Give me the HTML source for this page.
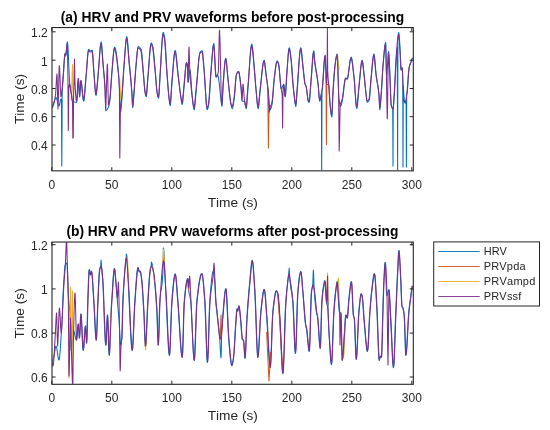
<!DOCTYPE html>
<html><head><meta charset="utf-8"><title>HRV and PRV waveforms</title>
<style>html,body{margin:0;padding:0;background:#fff;}text{font-kerning:none;font-variant-ligatures:none;}body{width:550px;height:430px;position:relative;overflow:hidden;}</style></head>
<body>
<svg width="550" height="430" viewBox="0 0 550 430" style="position:absolute;left:0;top:0">
<defs><clipPath id="c1"><rect x="52.1" y="27.6" width="361.2" height="143"/></clipPath><clipPath id="c2"><rect x="52.1" y="242.05" width="361.2" height="142.25"/></clipPath></defs>
<g clip-path="url(#c1)">
<polyline points="52.0,108.0 52.4,106.7 52.8,105.4 53.2,104.2 53.6,103.1 54.0,102.0 54.0,102.0 54.4,100.9 54.8,99.7 55.2,98.6 55.6,97.8 56.0,97.5 56.0,97.5 56.4,97.9 56.8,99.0 57.2,100.5 57.6,102.2 58.0,103.8 58.4,105.1 58.8,105.9 59.0,106.0 59.2,105.8 59.6,104.5 60.0,102.5 60.4,100.5 60.8,99.2 61.0,99.0 61.2,99.5 61.4,101.0 61.6,134.0 61.8,166.0 62.0,130.2 62.2,92.0 62.4,89.1 62.5,88.0 62.8,83.8 63.2,78.2 63.2,78.2 63.6,72.1 64.0,65.4 64.4,59.2 64.8,54.7 65.2,53.0 65.2,53.0 65.6,54.5 65.8,55.0 66.0,54.5 66.4,50.9 66.8,46.1 67.2,42.5 67.4,41.9 67.6,42.6 68.0,47.6 68.4,55.8 68.8,65.5 69.2,74.9 69.6,82.2 69.8,84.5 70.0,86.0 70.4,88.5 70.8,90.6 71.2,92.8 71.2,92.8 71.6,96.1 72.0,99.5 72.4,101.2 72.4,101.2 72.8,101.5 73.2,101.6 73.6,101.8 74.0,101.9 74.4,102.0 74.8,102.1 75.2,102.2 75.6,102.2 76.0,102.3 76.4,102.3 76.7,102.3 76.8,102.1 77.2,97.8 77.6,90.5 78.0,83.1 78.4,78.9 78.5,78.7 78.8,81.5 79.2,90.1 79.6,96.7 79.7,97.0 80.0,94.8 80.4,88.0 80.8,81.8 81.0,80.8 81.2,81.1 81.6,83.4 82.0,87.1 82.4,91.6 82.8,95.9 83.2,99.4 83.6,101.2 83.7,101.2 84.0,100.6 84.4,97.9 84.8,93.7 85.2,88.7 85.6,83.3 86.0,78.3 86.2,76.0 86.4,73.8 86.8,68.6 87.2,62.9 87.6,57.4 88.0,52.9 88.4,50.0 88.7,49.3 88.8,49.3 89.2,49.7 89.6,50.3 90.0,50.8 90.2,50.8 90.4,50.8 90.8,50.7 91.2,50.6 91.6,50.4 92.0,50.3 92.2,50.3 92.4,50.8 92.8,54.2 93.2,59.7 93.6,66.2 94.0,72.4 94.2,75.0 94.4,77.6 94.8,83.5 95.2,89.3 95.6,93.7 96.0,95.5 96.0,95.5 96.4,94.3 96.8,91.2 97.2,86.8 97.6,81.9 98.0,77.1 98.2,75.0 98.4,72.8 98.8,67.7 99.2,62.0 99.6,56.1 100.0,50.7 100.4,46.2 100.8,43.1 101.2,41.9 101.2,41.9 101.6,43.5 102.0,47.5 102.4,53.1 102.8,59.0 103.2,64.5 103.2,64.5 103.6,69.0 104.0,73.3 104.4,78.0 104.8,83.6 105.2,90.7 105.2,90.8 105.6,106.4 105.8,110.7 106.0,110.7 106.4,110.4 106.8,110.0 107.2,109.4 107.6,108.7 108.0,107.9 108.4,107.0 108.6,106.5 108.8,106.0 109.2,104.4 109.6,102.4 109.8,101.2 110.0,99.8 110.4,95.5 110.8,90.0 111.2,83.8 111.6,77.7 112.0,72.1 112.2,69.8 112.4,67.5 112.8,62.5 113.2,57.5 113.6,52.9 114.0,49.4 114.4,47.3 114.6,47.1 114.8,47.2 115.2,48.0 115.6,49.5 116.0,51.6 116.4,54.2 116.8,57.2 117.2,60.5 117.6,64.1 118.0,67.9 118.2,69.8 118.4,71.9 118.8,77.3 119.2,83.8 119.6,90.7 119.6,90.8 120.0,100.7 120.4,110.1 120.6,111.8 120.8,111.2 121.2,107.7 121.6,102.6 121.8,100.2 122.0,97.8 122.4,92.2 122.8,85.9 123.2,79.4 123.6,73.0 124.0,67.1 124.2,64.5 124.4,61.9 124.8,56.3 125.2,50.5 125.6,45.2 126.0,40.7 126.4,37.7 126.8,36.6 126.8,36.6 127.2,37.8 127.6,41.0 128.0,45.7 128.4,51.0 128.8,56.5 129.2,61.3 129.2,61.4 129.6,65.6 130.0,69.8 130.4,74.0 130.8,78.3 131.2,83.0 131.6,88.2 132.0,93.9 132.2,97.0 132.4,101.9 132.7,107.6 132.8,107.4 133.2,104.4 133.6,99.4 133.8,97.0 134.0,94.7 134.4,89.5 134.8,83.7 135.2,77.7 135.6,72.0 136.0,66.8 136.2,64.5 136.4,62.3 136.8,57.5 137.2,52.9 137.6,49.2 138.0,47.0 138.2,46.6 138.4,46.7 138.8,46.8 139.2,47.0 139.6,47.4 140.0,47.8 140.4,48.4 140.8,49.0 141.2,49.8 141.2,49.8 141.6,51.7 142.0,55.3 142.4,60.0 142.8,65.1 143.2,69.7 143.2,69.8 143.6,74.5 144.0,79.9 144.4,85.2 144.8,89.8 145.2,92.8 145.2,92.8 145.6,95.0 146.0,96.4 146.2,96.6 146.4,96.2 146.8,93.3 147.2,88.5 147.6,82.8 148.0,77.3 148.2,75.0 148.4,72.7 148.8,67.5 149.2,61.9 149.6,56.3 150.0,51.1 150.4,46.8 150.8,43.9 151.2,42.9 151.2,42.9 151.6,43.2 152.0,43.9 152.4,45.0 152.6,45.6 152.8,46.4 153.2,48.8 153.6,52.3 154.0,56.4 154.4,60.8 154.8,65.4 155.2,69.7 155.2,69.8 155.6,74.4 156.0,79.8 156.4,85.1 156.8,89.7 157.2,92.8 157.2,92.8 157.6,95.0 158.0,96.8 158.4,97.9 158.6,98.1 158.8,97.4 159.2,92.8 159.6,85.7 160.0,78.2 160.2,75.0 160.4,72.0 160.8,65.1 161.2,57.6 161.6,50.1 162.0,43.2 162.4,37.6 162.8,33.8 163.2,32.4 163.2,32.4 163.6,32.9 164.0,34.3 164.4,36.2 164.6,37.2 164.8,38.5 165.2,42.8 165.6,48.6 166.0,55.3 166.4,62.3 166.8,69.1 167.2,75.0 167.2,75.0 167.6,80.4 168.0,85.7 168.4,90.9 168.8,95.4 169.2,99.1 169.2,99.2 169.6,102.5 170.0,105.1 170.2,105.5 170.4,104.9 170.8,101.4 171.2,95.7 171.6,89.0 172.0,82.8 172.2,80.2 172.4,77.9 172.8,72.8 173.2,67.5 173.6,62.4 174.0,57.7 174.4,53.9 174.8,51.4 175.2,50.4 175.2,50.4 175.6,51.2 176.0,53.5 176.4,56.7 176.8,60.7 177.2,65.0 177.6,69.3 178.0,73.3 178.2,75.0 178.4,76.6 178.8,80.0 179.2,83.5 179.6,87.0 180.0,90.3 180.4,93.5 180.8,96.5 181.2,99.1 181.2,99.2 181.6,101.9 182.0,104.1 182.2,104.4 182.4,104.0 182.8,101.5 183.2,97.3 183.6,92.4 184.0,87.6 184.2,85.5 184.4,83.4 184.8,78.7 185.2,73.6 185.6,68.8 186.0,64.9 186.4,62.7 186.6,62.4 186.8,62.6 187.2,64.0 187.6,66.6 187.6,66.6 188.0,78.6 188.2,82.3 188.4,81.9 188.8,79.1 189.2,75.0 189.6,71.3 190.0,69.8 190.0,69.8 190.4,71.5 190.8,76.0 191.2,82.1 191.6,88.5 192.0,94.0 192.2,96.0 192.4,97.8 192.8,101.5 193.2,105.0 193.6,107.8 194.0,109.4 194.2,109.7 194.4,109.3 194.8,106.8 195.2,102.6 195.6,97.6 196.0,92.8 196.2,90.8 196.4,88.8 196.8,84.3 197.2,79.5 197.6,74.4 198.0,69.4 198.4,64.7 198.8,60.3 199.2,56.7 199.6,53.9 200.0,52.3 200.2,51.9 200.4,51.7 200.8,51.4 201.2,51.1 201.6,51.0 202.0,50.9 202.2,50.8 202.4,51.2 202.8,53.6 203.2,57.6 203.6,62.5 204.0,67.5 204.2,69.8 204.4,72.2 204.8,78.1 205.2,85.0 205.6,92.1 206.0,98.8 206.4,104.4 206.8,108.2 207.2,109.7 207.2,109.7 207.6,109.2 208.0,108.0 208.4,106.4 208.6,105.5 208.8,104.2 209.2,100.2 209.6,94.7 210.0,88.2 210.4,81.5 210.8,75.1 211.2,69.8 211.2,69.8 211.6,64.7 212.0,59.4 212.4,54.1 212.8,49.4 213.2,45.8 213.6,43.8 213.8,43.5 214.0,44.2 214.4,48.7 214.8,56.1 215.2,64.5 215.6,71.8 216.0,76.4 216.2,77.1 216.4,77.0 216.8,76.3 217.2,75.4 217.6,75.0 217.6,75.0 218.0,75.6 218.4,77.3 218.8,79.9 219.2,83.1 219.6,86.8 220.0,90.7 220.4,94.6 220.8,98.3 221.2,101.7 221.6,104.4 221.6,104.4 222.0,106.5 222.0,106.5 222.4,102.3 222.8,93.4 223.2,85.5 223.2,85.5 223.6,79.9 224.0,74.1 224.4,68.7 224.8,64.0 225.2,60.4 225.6,58.5 225.8,58.2 226.0,58.5 226.4,60.7 226.8,64.4 227.2,69.0 227.6,73.8 228.0,78.3 228.2,80.2 228.4,82.0 228.8,85.8 229.2,89.7 229.6,93.6 230.0,97.3 230.4,100.6 230.8,103.4 231.2,105.4 231.2,105.5 231.6,107.2 232.0,108.4 232.2,108.6 232.4,108.5 232.8,107.4 233.2,105.5 233.6,103.1 234.0,100.5 234.2,99.2 234.4,97.6 234.8,93.4 235.2,88.3 235.6,83.0 236.0,78.4 236.4,75.2 236.6,74.4 236.8,73.9 237.2,73.0 237.6,72.3 238.0,71.7 238.4,71.5 238.6,71.4 238.8,71.6 239.2,72.8 239.6,75.0 240.0,77.9 240.4,81.3 240.8,84.9 241.2,88.6 241.2,88.7 241.6,94.4 242.0,100.2 242.2,101.2 242.4,101.2 242.8,101.2 243.2,101.2 243.6,101.2 244.0,101.2 244.4,101.2 244.6,101.2 244.8,101.6 245.2,103.6 245.6,106.3 246.0,108.3 246.2,108.6 246.4,108.2 246.8,105.1 247.2,99.9 247.6,93.9 248.0,88.0 248.2,85.5 248.4,83.1 248.8,77.6 249.2,71.7 249.6,65.6 250.0,59.6 250.4,54.2 250.8,49.6 251.2,46.2 251.6,44.4 251.8,44.1 252.0,44.4 252.4,46.2 252.8,49.4 253.2,53.6 253.6,58.5 254.0,63.6 254.4,68.5 254.6,70.8 254.8,73.1 255.2,78.2 255.6,83.5 256.0,88.5 256.2,90.8 256.4,92.9 256.8,97.7 257.2,102.3 257.6,106.1 258.0,108.3 258.2,108.6 258.4,108.2 258.8,105.8 259.2,101.7 259.6,97.0 260.0,92.6 260.2,90.8 260.4,89.0 260.8,85.3 261.2,81.3 261.6,77.3 262.0,73.3 262.4,69.6 262.8,66.2 263.2,63.5 263.6,61.5 264.0,60.4 264.2,60.3 264.4,60.6 264.8,62.5 265.2,65.7 265.6,69.6 266.0,73.4 266.2,75.0 266.4,76.5 266.8,79.6 267.2,82.6 267.6,85.8 268.0,89.1 268.2,90.8 268.4,92.7 268.8,97.4 269.2,102.3 269.6,106.7 270.0,109.3 270.2,109.7 270.4,109.6 270.8,108.9 271.2,107.7 271.6,106.2 272.0,104.3 272.2,103.3 272.4,102.1 272.8,98.0 273.2,92.7 273.6,87.1 274.0,82.2 274.2,80.2 274.4,78.5 274.8,75.0 275.2,71.5 275.6,68.2 276.0,65.3 276.4,63.0 276.8,61.5 277.2,60.9 277.2,60.9 277.6,61.2 278.0,61.9 278.4,62.9 278.6,63.5 278.8,64.4 279.2,67.9 279.6,72.8 280.0,78.3 280.4,83.4 280.8,87.2 281.2,88.6 281.2,88.7 281.6,88.4 282.0,87.7 282.4,86.8 282.8,85.8 283.2,85.0 283.6,84.5 283.8,84.5 284.0,85.1 284.4,89.4 284.8,94.6 285.2,97.0 285.2,97.0 285.6,95.0 286.0,89.8 286.4,82.9 286.8,75.7 287.2,69.8 287.2,69.8 287.6,64.3 288.0,58.5 288.4,53.1 288.8,49.2 289.2,47.7 289.2,47.7 289.6,48.4 290.0,50.2 290.4,52.9 290.8,56.0 291.2,59.2 291.2,59.2 291.6,63.4 292.0,68.8 292.4,74.7 292.8,80.6 293.2,85.5 293.2,85.5 293.6,89.7 294.0,93.6 294.4,97.3 294.8,100.6 295.2,103.3 295.2,103.3 295.6,106.0 295.8,106.5 296.0,105.9 296.4,102.0 296.8,96.2 297.2,90.8 297.2,90.8 297.6,85.6 298.0,79.7 298.4,73.4 298.8,67.1 299.2,61.1 299.6,55.8 300.0,51.5 300.4,48.7 300.8,47.7 300.8,47.7 301.2,48.7 301.6,51.4 302.0,55.2 302.4,59.5 302.8,63.9 303.2,67.6 303.2,67.7 303.6,71.3 304.0,75.4 304.4,79.2 304.8,82.4 305.2,84.4 305.2,84.5 305.6,85.4 306.0,86.1 306.2,86.5 306.4,87.4 306.8,90.0 307.2,93.5 307.6,97.1 308.0,100.2 308.4,102.0 308.6,102.3 308.8,102.3 309.2,102.3 309.2,102.3 309.6,100.7 310.0,96.7 310.4,91.2 310.8,85.4 311.2,80.3 311.2,80.2 311.6,75.2 312.0,69.3 312.4,63.4 312.8,57.9 313.2,53.6 313.6,51.2 313.8,50.8 314.0,51.8 314.4,57.0 314.6,59.2 314.8,60.9 315.2,64.1 315.6,66.8 316.0,69.4 316.4,71.9 316.8,74.4 317.2,77.0 317.6,79.7 318.0,82.8 318.2,84.5 318.4,86.5 318.8,91.8 319.2,97.1 319.6,100.7 319.8,101.2 320.0,100.9 320.4,99.0 320.8,96.5 321.2,94.6 321.4,94.3 321.6,150.6 321.7,170.3 322.0,91.6 322.0,91.6 322.2,90.8 322.4,89.3 322.8,84.9 323.2,79.0 323.6,72.4 324.0,66.0 324.4,60.4 324.8,56.5 325.2,55.1 325.2,55.0 325.6,60.4 326.0,70.7 326.2,75.0 326.4,79.0 326.8,84.5 326.8,84.5 327.2,84.5 327.6,84.5 328.0,84.5 328.4,84.5 328.8,84.5 328.8,84.5 329.2,87.8 329.6,95.3 330.0,102.8 330.2,105.5 330.4,107.5 330.8,111.4 331.2,114.7 331.6,116.7 331.8,117.0 332.0,115.9 332.4,109.0 332.8,99.1 333.2,90.8 333.2,90.8 333.6,84.5 334.0,78.5 334.4,72.9 334.8,68.2 335.2,64.5 335.2,64.5 335.6,61.5 336.0,58.6 336.4,56.3 336.8,54.6 337.2,54.0 337.2,54.0 337.6,59.8 338.0,72.9 338.4,87.1 338.8,96.0 338.8,96.0 339.2,100.0 339.6,103.3 340.0,105.6 340.4,106.5 340.4,106.5 340.8,106.1 341.2,105.1 341.6,103.6 342.0,102.0 342.2,101.2 342.4,100.4 342.8,97.9 343.2,94.9 343.6,91.5 344.0,88.0 344.4,84.6 344.8,81.7 345.2,79.5 345.6,78.3 345.8,78.2 346.0,78.2 346.4,78.6 346.8,79.0 347.2,79.2 347.2,79.2 347.6,78.6 348.0,76.9 348.4,74.4 348.8,71.4 349.2,68.2 349.6,64.9 350.0,61.9 350.4,59.4 350.8,57.8 351.2,57.2 351.2,57.1 351.6,57.8 352.0,59.5 352.4,62.0 352.8,65.2 353.2,68.8 353.6,72.6 354.0,76.3 354.2,78.2 354.4,80.2 354.8,85.4 355.2,91.5 355.6,97.8 356.0,103.2 356.4,107.1 356.8,108.6 356.8,108.6 357.2,107.4 357.6,104.2 358.0,99.7 358.4,94.7 358.8,89.7 359.2,85.5 359.2,85.5 359.6,81.6 360.0,77.2 360.4,72.7 360.8,68.5 361.2,64.8 361.6,62.1 362.0,60.5 362.2,60.3 362.4,60.6 362.8,62.4 363.2,65.5 363.6,69.3 364.0,73.2 364.2,75.0 364.4,76.8 364.8,80.7 365.2,85.0 365.6,89.3 366.0,93.2 366.2,95.0 366.4,96.8 366.8,100.5 367.2,102.3 367.2,102.3 367.6,102.2 368.0,101.9 368.4,101.5 368.8,100.9 369.2,100.2 369.2,100.2 369.6,98.0 370.0,93.8 370.4,88.3 370.8,82.8 371.2,78.2 371.2,78.2 371.6,73.9 372.0,69.4 372.4,64.8 372.8,60.6 373.2,57.2 373.6,54.9 374.0,54.0 374.0,54.0 374.4,55.3 374.8,58.8 375.2,63.4 375.6,68.5 376.0,73.1 376.2,75.0 376.4,76.6 376.8,79.3 377.2,81.7 377.6,84.0 378.0,86.4 378.4,89.2 378.8,92.7 379.2,97.0 379.2,97.0 379.6,106.9 379.8,109.7 380.0,109.2 380.4,106.0 380.8,101.1 381.2,96.0 381.2,96.0 381.6,90.4 382.0,83.7 382.4,76.6 382.8,69.9 383.2,64.5 383.2,64.5 383.6,59.8 384.0,54.9 384.4,50.4 384.8,46.6 385.2,43.8 385.6,42.5 385.7,42.4 386.0,50.9 386.4,70.9 386.6,75.0 386.8,74.3 387.2,69.9 387.6,63.3 388.0,56.6 388.4,52.2 388.6,51.6 388.8,52.4 389.2,57.7 389.6,66.2 390.0,75.8 390.2,80.2 390.4,85.4 390.8,97.9 391.2,105.4 391.2,105.5 391.6,106.7 392.0,107.2 392.4,108.0 392.7,109.4 392.8,124.4 393.0,166.0 393.2,110.7 393.2,110.7 393.3,109.3 393.6,105.1 394.0,99.7 394.4,93.9 394.6,90.8 394.8,87.2 395.2,78.8 395.6,70.1 396.0,62.3 396.2,59.2 396.4,56.4 396.8,50.9 397.2,47.6 397.3,47.5 397.6,170.3 397.6,170.3 397.9,41.0 398.0,38.8 398.4,33.5 398.7,32.5 398.8,32.6 399.2,35.6 399.6,41.1 400.0,47.7 400.2,50.8 400.4,54.7 400.8,64.5 401.2,69.8 401.2,69.8 401.6,69.0 402.0,67.9 402.2,67.7 402.4,69.0 402.7,76.1 402.8,101.2 403.0,167.0 403.2,107.1 403.3,86.1 403.6,89.9 404.0,99.0 404.2,101.2 404.4,101.8 404.8,102.7 405.2,103.2 405.6,103.3 405.6,103.3 406.0,100.4 406.1,100.1 406.4,167.0 406.4,167.0 406.7,96.1 406.8,95.0 407.2,92.9 407.2,92.8 407.6,88.5 408.0,82.6 408.4,76.4 408.8,71.0 409.2,67.7 409.2,67.7 409.6,65.9 410.0,64.5 410.4,63.4 410.8,62.4 411.2,61.4 411.2,61.4 411.6,60.2 412.0,59.2 412.4,58.2 412.6,57.7" fill="none" stroke="#0072BD" stroke-width="1.05" stroke-linejoin="round" stroke-linecap="butt"/>
<polyline points="267.8,88.0 268.4,148.0 269.0,110.0" fill="none" stroke="#D95319" stroke-width="1.05" stroke-linejoin="round" stroke-linecap="butt"/>
<polyline points="326.0,76.0 326.4,144.6 326.8,84.0" fill="none" stroke="#D95319" stroke-width="1.05" stroke-linejoin="round" stroke-linecap="butt"/>
<polyline points="72.7,100.0 73.1,138.0 73.5,100.0" fill="none" stroke="#D95319" stroke-width="1.05" stroke-linejoin="round" stroke-linecap="butt"/>
<polyline points="71.6,92.0 72.5,64.5 73.2,100.0" fill="none" stroke="#EDB120" stroke-width="1.05" stroke-linejoin="round" stroke-linecap="butt"/>
<polyline points="119.6,78.0 120.8,100.0" fill="none" stroke="#EDB120" stroke-width="1.05" stroke-linejoin="round" stroke-linecap="butt"/>
<polyline points="337.6,55.0 339.0,70.0" fill="none" stroke="#EDB120" stroke-width="1.05" stroke-linejoin="round" stroke-linecap="butt"/>
<polyline points="52.0,108.0 52.4,107.5 52.8,106.7 53.2,105.6 53.6,104.4 54.0,103.0 54.0,103.0 54.4,101.5 54.8,99.5 55.2,97.1 55.5,95.0 55.6,94.1 56.0,87.8 56.4,80.3 56.8,74.8 57.0,74.0 57.2,77.6 57.6,96.7 58.0,109.0 58.0,109.0 58.4,99.2 58.8,79.9 59.2,66.2 59.3,65.5 59.6,68.1 60.0,77.1 60.4,88.0 60.8,95.8 61.0,97.0 61.2,96.7 61.6,94.2 62.0,90.2 62.4,85.2 62.8,80.2 63.0,78.0 63.2,75.6 63.6,69.7 64.0,63.3 64.4,57.8 64.8,54.5 65.0,54.0 65.2,54.5 65.6,56.0 65.6,56.0 66.0,54.0 66.4,49.8 66.8,45.5 67.2,43.5 67.2,43.5 67.6,55.6 67.9,75.0 68.0,87.7 68.3,130.5 68.4,126.2 68.8,88.0 68.8,88.0 69.2,85.0 69.6,84.0 69.6,84.0 70.0,85.1 70.4,87.6 70.8,90.7 71.0,92.0 71.2,93.2 71.6,95.7 72.0,98.4 72.2,100.0 72.4,101.5 72.6,104.0 72.8,121.9 73.0,138.0 73.2,126.9 73.5,100.0 73.6,95.8 74.0,83.7 74.1,80.0 74.4,61.5 74.5,59.0 74.8,75.4 74.9,80.0 75.2,86.7 75.6,93.8 76.0,98.7 76.4,100.9 76.5,101.0 76.8,99.3 77.2,93.4 77.6,86.1 78.0,80.2 78.3,78.5 78.4,78.8 78.8,85.1 79.2,93.3 79.5,96.0 79.6,95.7 80.0,90.9 80.4,84.0 80.8,80.5 80.8,80.5 81.2,81.7 81.6,84.6 82.0,88.6 82.4,92.9 82.8,96.7 83.2,99.3 83.5,100.0 83.6,99.9 84.0,98.3 84.4,95.0 84.8,90.5 85.2,85.5 85.6,80.4 86.0,76.0 86.0,76.0 86.4,71.5 86.8,66.2 87.2,60.8 87.6,56.0 88.0,52.4 88.4,50.6 88.5,50.5 88.8,50.7 89.2,51.2 89.6,51.7 90.0,52.0 90.0,52.0 90.4,51.9 90.8,51.8 91.2,51.7 91.6,51.6 92.0,51.5 92.0,51.5 92.4,53.2 92.8,57.6 93.2,63.5 93.6,69.7 94.0,75.0 94.0,75.0 94.4,80.2 94.8,85.9 95.2,90.9 95.6,94.1 95.8,94.5 96.0,94.2 96.4,92.1 96.8,88.4 97.2,84.0 97.6,79.3 98.0,75.0 98.0,75.0 98.4,70.6 98.8,65.4 99.2,59.8 99.6,54.3 100.0,49.5 100.4,45.9 100.8,43.8 101.0,43.5 101.2,43.9 101.6,46.7 102.0,51.4 102.4,57.0 102.8,62.5 103.0,65.0 103.2,67.2 103.6,71.3 104.0,75.5 104.4,80.3 104.8,86.4 105.0,90.0 105.2,96.7 105.6,109.0 105.6,109.0 106.0,103.3 106.4,90.2 106.8,75.7 107.2,65.5 107.4,64.0 107.6,68.3 108.0,90.6 108.4,105.0 108.4,105.0 108.8,104.2 109.2,102.3 109.6,100.0 109.6,100.0 110.0,96.7 110.4,92.0 110.8,86.4 111.2,80.4 111.6,74.8 112.0,70.0 112.0,70.0 112.4,65.5 112.8,60.7 113.2,56.1 113.6,52.1 114.0,49.4 114.4,48.4 114.4,48.4 114.8,48.8 115.2,49.9 115.6,51.6 116.0,53.9 116.4,56.6 116.8,59.6 117.2,62.9 117.6,66.4 118.0,70.0 118.0,70.0 118.4,73.2 118.8,77.3 119.2,84.5 119.4,90.0 119.6,125.6 119.8,158.0 120.0,146.4 120.4,110.0 120.4,110.0 120.8,104.9 121.2,102.2 121.6,99.0 121.6,99.0 122.0,94.1 122.4,88.4 122.8,82.3 123.2,76.1 123.6,70.2 124.0,65.0 124.0,65.0 124.4,59.9 124.8,54.4 125.2,49.1 125.6,44.4 126.0,40.7 126.4,38.7 126.6,38.4 126.8,38.7 127.2,40.9 127.6,44.7 128.0,49.5 128.4,54.8 128.8,59.8 129.0,62.0 129.2,64.1 129.6,68.1 130.0,72.0 130.4,76.1 130.8,80.4 131.2,85.0 131.6,90.2 132.0,96.0 132.0,96.0 132.4,105.2 132.5,106.0 132.8,104.8 133.2,100.7 133.6,96.0 133.6,96.0 134.0,91.4 134.4,86.1 134.8,80.4 135.2,74.8 135.6,69.5 136.0,65.0 136.0,65.0 136.4,60.6 136.8,56.1 137.2,52.0 137.6,49.1 138.0,48.0 138.0,48.0 138.4,48.1 138.8,48.2 139.2,48.5 139.6,48.9 140.0,49.4 140.4,50.0 140.8,50.6 141.0,51.0 141.2,51.7 141.6,54.4 142.0,58.4 142.4,63.1 142.8,67.9 143.0,70.0 143.2,72.2 143.6,77.1 144.0,82.3 144.4,87.0 144.8,90.7 145.0,92.0 145.2,93.0 145.6,94.8 146.0,95.6 146.0,95.6 146.4,94.1 146.8,90.3 147.2,85.2 147.6,79.8 148.0,75.0 148.0,75.0 148.4,70.4 148.8,65.2 149.2,59.8 149.6,54.6 150.0,50.1 150.4,46.6 150.8,44.7 151.0,44.4 151.2,44.5 151.6,45.0 152.0,45.9 152.4,47.0 152.4,47.0 152.8,48.8 153.2,51.6 153.6,55.2 154.0,59.4 154.4,63.7 154.8,68.0 155.0,70.0 155.2,72.1 155.6,77.0 156.0,82.2 156.4,87.0 156.8,90.7 157.0,92.0 157.2,93.0 157.6,95.0 158.0,96.4 158.4,97.0 158.4,97.0 158.8,94.6 159.2,88.7 159.6,81.5 160.0,75.0 160.0,75.0 160.4,68.9 160.8,62.0 161.2,54.8 161.6,47.9 162.0,41.9 162.4,37.3 162.8,34.7 163.0,34.4 163.2,34.5 163.6,35.5 164.0,37.1 164.4,39.0 164.4,39.0 164.8,42.1 165.2,46.9 165.6,52.9 166.0,59.6 166.4,66.2 166.8,72.3 167.0,75.0 167.2,77.5 167.6,82.7 168.0,87.7 168.4,92.4 168.8,96.3 169.0,98.0 169.2,99.6 169.6,102.6 170.0,104.0 170.0,104.0 170.4,102.2 170.8,97.6 171.2,91.5 171.6,85.2 172.0,80.0 172.0,80.0 172.4,75.4 172.8,70.4 173.2,65.4 173.6,60.7 174.0,56.6 174.4,53.5 174.8,51.8 175.0,51.6 175.2,51.8 175.6,53.3 176.0,55.9 176.4,59.4 176.8,63.4 177.2,67.6 177.6,71.5 178.0,75.0 178.0,75.0 178.4,78.2 178.8,81.4 179.2,84.8 179.6,88.0 180.0,91.2 180.4,94.1 180.8,96.8 181.0,98.0 181.2,99.3 181.6,101.8 182.0,103.0 182.0,103.0 182.4,101.7 182.8,98.4 183.2,94.0 183.6,89.2 184.0,85.0 184.0,85.0 184.4,80.8 184.8,76.1 185.2,71.3 185.6,67.1 186.0,64.1 186.4,63.0 186.4,63.0 186.8,63.7 187.2,65.6 187.4,67.0 187.6,71.5 188.0,82.0 188.0,82.0 188.4,69.7 188.8,50.6 189.0,47.0 189.2,49.9 189.6,64.4 189.8,70.0 190.0,73.3 190.4,79.1 190.8,84.0 191.2,88.1 191.6,91.7 192.0,95.0 192.0,95.0 192.4,98.5 192.8,101.9 193.2,105.0 193.6,107.2 194.0,108.0 194.0,108.0 194.4,106.7 194.8,103.4 195.2,99.0 195.6,94.2 196.0,90.0 196.0,90.0 196.4,86.0 196.8,81.6 197.2,76.9 197.6,72.1 198.0,67.4 198.4,63.0 198.8,59.2 199.2,56.1 199.6,54.0 200.0,53.0 200.0,53.0 200.4,52.7 200.8,52.4 201.2,52.2 201.6,52.0 202.0,52.0 202.0,52.0 202.4,53.2 202.8,56.3 203.2,60.7 203.6,65.5 204.0,70.0 204.0,70.0 204.4,75.0 204.8,81.1 205.2,87.9 205.6,94.5 206.0,100.5 206.4,105.0 206.8,107.6 207.0,108.0 207.2,107.9 207.6,107.1 208.0,105.7 208.4,104.0 208.4,104.0 208.8,101.1 209.2,96.5 209.6,90.7 210.0,84.4 210.4,78.1 210.8,72.4 211.0,70.0 211.2,67.7 211.6,62.7 212.0,57.6 212.4,52.8 212.8,48.8 213.2,46.0 213.6,45.0 213.6,45.0 214.0,47.4 214.4,53.3 214.8,61.0 215.2,68.7 215.6,74.6 216.0,77.0 216.0,77.0 216.4,76.8 216.8,76.2 217.2,75.4 217.4,75.0 217.6,74.6 218.0,73.4 218.3,72.0 218.4,70.7 218.8,55.2 219.2,36.2 219.5,30.0 219.6,30.5 220.0,41.0 220.4,58.8 220.7,72.0 220.8,76.5 221.2,97.6 221.4,103.0 221.6,104.4 221.8,105.0 222.0,103.9 222.4,96.9 222.8,88.3 223.0,85.0 223.2,82.4 223.6,76.9 224.0,71.5 224.4,66.7 224.8,62.7 225.2,60.0 225.6,59.0 225.6,59.0 226.0,60.1 226.4,63.0 226.8,67.0 227.2,71.6 227.6,76.1 228.0,80.0 228.0,80.0 228.4,83.5 228.8,87.2 229.2,90.9 229.6,94.5 230.0,97.8 230.4,100.8 230.8,103.1 231.0,104.0 231.2,104.8 231.6,106.3 232.0,107.0 232.0,107.0 232.4,106.5 232.8,105.0 233.2,102.9 233.6,100.5 234.0,98.0 234.0,98.0 234.4,94.7 234.8,90.1 235.2,85.1 235.6,80.3 236.0,76.5 236.4,74.4 236.4,74.4 236.8,73.5 237.2,72.7 237.6,72.1 238.0,71.7 238.4,71.6 238.4,71.6 238.8,72.2 239.2,73.8 239.6,76.3 240.0,79.3 240.4,82.7 240.8,86.2 241.0,88.0 241.2,90.4 241.6,96.6 242.0,100.0 242.0,100.0 242.4,94.4 242.8,85.7 243.0,84.0 243.2,84.7 243.6,89.4 244.0,95.5 244.4,100.0 244.4,100.0 244.8,102.5 245.2,104.8 245.6,106.4 246.0,107.0 246.0,107.0 246.4,105.4 246.8,101.4 247.2,95.9 247.6,90.1 248.0,85.0 248.0,85.0 248.4,80.2 248.8,74.7 249.2,68.9 249.6,63.2 250.0,57.7 250.4,52.9 250.8,49.1 251.2,46.5 251.6,45.6 251.6,45.6 252.0,46.5 252.4,48.9 252.8,52.5 253.2,56.9 253.6,61.7 254.0,66.5 254.4,71.0 254.4,71.0 254.8,75.6 255.2,80.6 255.6,85.6 256.0,90.0 256.0,90.0 256.4,94.3 256.8,98.9 257.2,102.9 257.6,105.9 258.0,107.0 258.0,107.0 258.4,105.7 258.8,102.5 259.2,98.3 259.6,93.8 260.0,90.0 260.0,90.0 260.4,86.6 260.8,82.9 261.2,79.1 261.6,75.2 262.0,71.6 262.4,68.2 262.8,65.3 263.2,63.0 263.6,61.5 264.0,61.0 264.0,61.0 264.4,62.0 264.8,64.5 265.2,68.0 265.6,71.7 266.0,75.0 266.0,75.0 266.4,77.7 266.8,80.2 267.2,82.9 267.6,86.1 268.0,90.0 268.0,90.0 268.4,97.7 268.8,107.3 269.2,112.0 269.2,112.0 269.6,110.4 270.0,108.0 270.0,108.0 270.4,106.7 270.8,105.7 271.2,104.7 271.6,103.6 272.0,102.0 272.0,102.0 272.4,99.0 272.8,94.4 273.2,89.2 273.6,84.0 274.0,80.0 274.0,80.0 274.4,76.7 274.8,73.3 275.2,70.1 275.6,67.1 276.0,64.6 276.4,62.7 276.8,61.7 277.0,61.6 277.2,61.7 277.6,62.1 278.0,63.0 278.4,64.0 278.4,64.0 278.8,65.9 279.2,69.2 279.6,73.3 280.0,77.8 280.4,82.3 280.8,86.3 281.0,88.0 281.2,89.2 281.6,91.0 282.0,93.6 282.2,96.0 282.4,112.7 282.6,128.0 282.8,111.2 283.0,92.0 283.2,87.8 283.6,84.0 283.6,84.0 284.0,86.4 284.4,91.3 284.8,95.3 285.0,96.0 285.2,95.5 285.6,91.8 286.0,85.9 286.4,79.0 286.8,72.6 287.0,70.0 287.2,67.5 287.6,62.0 288.0,56.6 288.4,52.1 288.8,49.4 289.0,49.0 289.2,49.2 289.6,50.4 290.0,52.6 290.4,55.4 290.8,58.5 291.0,60.0 291.2,61.8 291.6,66.4 292.0,71.9 292.4,77.6 292.8,82.8 293.0,85.0 293.2,87.0 293.6,90.9 294.0,94.5 294.4,97.8 294.8,100.7 295.0,102.0 295.2,103.3 295.6,105.0 295.6,105.0 296.0,102.9 296.4,98.1 296.8,92.4 297.0,90.0 297.2,87.7 297.6,82.4 298.0,76.5 298.4,70.5 298.8,64.6 299.2,59.1 299.6,54.5 300.0,51.1 300.4,49.3 300.6,49.0 300.8,49.3 301.2,51.1 301.6,54.2 302.0,58.1 302.4,62.3 302.8,66.3 303.0,68.0 303.2,69.7 303.6,73.4 304.0,77.2 304.4,80.7 304.8,83.2 305.0,84.0 305.2,84.5 305.6,85.2 306.0,86.0 306.0,86.0 306.4,87.9 306.8,90.9 307.2,94.3 307.6,97.6 308.0,100.0 308.4,101.0 308.4,101.0 308.8,101.0 309.0,101.0 309.2,100.6 309.6,97.8 310.0,93.2 310.4,87.7 310.8,82.3 311.0,80.0 311.2,77.7 311.6,72.4 312.0,66.7 312.4,61.2 312.8,56.5 313.2,53.2 313.6,52.0 313.6,52.0 314.0,55.2 314.4,60.0 314.4,60.0 314.8,63.1 315.2,65.9 315.6,68.5 316.0,70.9 316.4,73.2 316.8,75.6 317.2,78.2 317.6,80.9 318.0,84.0 318.0,84.0 318.4,88.3 318.8,93.6 319.2,98.1 319.6,100.0 319.6,100.0 320.0,99.6 320.4,98.5 320.8,96.8 321.2,94.7 321.6,92.4 322.0,90.0 322.0,90.0 322.4,86.5 322.8,81.5 323.2,75.4 323.6,69.2 324.0,63.5 324.4,59.0 324.8,56.4 325.0,56.0 325.2,57.4 325.6,65.9 326.0,75.0 326.0,75.0 326.4,82.4 326.6,84.0 326.8,81.4 327.1,70.0 327.2,56.9 327.4,28.0 327.6,57.7 327.7,70.0 328.0,76.9 328.4,81.5 328.6,84.0 328.8,87.1 329.2,93.4 329.6,99.3 330.0,104.0 330.0,104.0 330.4,107.8 330.8,111.4 331.2,114.0 331.6,115.0 331.6,115.0 332.0,111.3 332.4,102.8 332.8,93.6 333.0,90.0 333.2,87.0 333.6,81.1 334.0,75.6 334.4,70.6 334.8,66.6 335.0,65.0 335.2,63.6 335.6,60.7 336.0,58.2 336.4,56.3 336.8,55.2 337.0,55.0 337.2,55.8 337.6,61.6 338.0,72.2 338.4,86.7 338.6,95.0 338.8,113.4 339.2,151.0 339.2,151.0 339.6,135.4 340.0,110.5 340.2,105.0 340.4,104.0 340.8,102.7 341.2,101.9 341.6,101.1 342.0,100.0 342.0,100.0 342.4,98.1 342.8,95.4 343.2,92.3 343.6,89.0 344.0,85.7 344.4,82.7 344.8,80.3 345.2,78.6 345.6,78.0 345.6,78.0 346.0,78.2 346.4,78.6 346.8,78.9 347.0,79.0 347.2,78.8 347.6,77.7 348.0,75.7 348.4,73.1 348.8,70.1 349.2,66.9 349.6,63.9 350.0,61.3 350.4,59.3 350.8,58.2 351.0,58.0 351.2,58.2 351.6,59.3 352.0,61.3 352.4,64.1 352.8,67.3 353.2,70.9 353.6,74.5 354.0,78.0 354.0,78.0 354.4,82.3 354.8,87.8 355.2,93.8 355.6,99.4 356.0,104.0 356.4,106.6 356.6,107.0 356.8,106.7 357.2,104.5 357.6,100.8 358.0,96.2 358.4,91.3 358.8,86.9 359.0,85.0 359.2,83.2 359.6,79.2 360.0,75.0 360.4,70.8 360.8,67.0 361.2,63.9 361.6,61.8 362.0,61.0 362.0,61.0 362.4,61.9 362.8,64.4 363.2,67.8 363.6,71.5 364.0,75.0 364.0,75.0 364.4,78.5 364.8,82.5 365.2,86.6 365.6,90.5 366.0,94.0 366.0,94.0 366.4,97.6 366.8,100.5 367.0,101.0 367.2,101.0 367.6,100.8 368.0,100.5 368.4,100.0 368.8,99.4 369.0,99.0 369.2,98.3 369.6,95.1 370.0,90.4 370.4,85.0 370.8,80.1 371.0,78.0 371.2,76.1 371.6,71.8 372.0,67.5 372.4,63.3 372.8,59.6 373.2,56.8 373.6,55.2 373.8,55.0 374.0,55.3 374.4,57.7 374.8,61.7 375.2,66.4 375.6,71.1 376.0,75.0 376.0,75.0 376.4,77.9 376.8,80.3 377.2,82.5 377.6,84.7 378.0,87.2 378.4,90.1 378.8,93.8 379.0,96.0 379.2,100.1 379.6,108.0 379.6,108.0 380.0,106.3 380.4,102.3 380.8,97.4 381.0,95.0 381.2,92.5 381.6,86.6 382.0,79.9 382.4,73.3 382.8,67.4 383.0,65.0 383.2,62.8 383.6,58.2 384.0,53.7 384.4,49.7 384.8,46.5 385.2,44.5 385.5,44.0 385.6,44.7 386.0,57.1 386.4,75.0 386.4,75.0 386.8,98.3 387.2,117.9 387.3,119.0 387.6,106.9 388.0,72.6 388.4,52.7 388.4,52.7 388.8,55.5 389.2,62.3 389.6,71.2 390.0,80.0 390.0,80.0 390.4,90.9 390.8,101.5 391.0,104.0 391.2,104.9 391.6,106.5 392.0,107.7 392.4,108.5 392.8,108.9 393.0,109.0 393.2,108.3 393.6,103.8 394.0,97.0 394.4,90.0 394.4,90.0 394.8,82.8 395.2,74.6 395.6,66.5 396.0,60.0 396.0,60.0 396.4,54.4 396.8,48.8 397.2,43.6 397.6,39.2 398.0,36.1 398.4,34.6 398.5,34.5 398.8,35.6 399.2,39.9 399.6,45.8 400.0,52.0 400.0,52.0 400.4,60.4 400.8,68.6 401.0,70.0 401.2,69.8 401.6,68.7 402.0,68.0 402.0,68.0 402.4,71.2 402.8,78.8 403.2,88.0 403.6,96.0 404.0,100.0 404.0,100.0 404.4,100.9 404.8,101.6 405.2,102.0 405.4,102.0 405.6,101.7 406.0,100.0 406.4,97.1 406.8,93.7 407.0,92.0 407.2,90.1 407.6,85.0 408.0,79.2 408.4,73.6 408.8,69.3 409.0,68.0 409.2,67.1 409.6,65.6 410.0,64.5 410.4,63.5 410.8,62.5 411.0,62.0 411.2,61.5 411.6,60.4 412.0,59.4 412.4,58.5" fill="none" stroke="#7E2F8E" stroke-width="1.05" stroke-linejoin="round" stroke-linecap="butt"/>
</g>
<g stroke="#262626" stroke-width="1" fill="none"><rect x="52.0" y="27.55" width="361.3" height="143.29999999999998" stroke-width="1.1"/><line x1="52.0" y1="31.8" x2="55.6" y2="31.8"/><line x1="413.3" y1="31.8" x2="409.7" y2="31.8"/><line x1="52.0" y1="60.2" x2="55.6" y2="60.2"/><line x1="413.3" y1="60.2" x2="409.7" y2="60.2"/><line x1="52.0" y1="88.5" x2="55.6" y2="88.5"/><line x1="413.3" y1="88.5" x2="409.7" y2="88.5"/><line x1="52.0" y1="116.7" x2="55.6" y2="116.7"/><line x1="413.3" y1="116.7" x2="409.7" y2="116.7"/><line x1="52.0" y1="145" x2="55.6" y2="145"/><line x1="413.3" y1="145" x2="409.7" y2="145"/><line x1="51.8" y1="170.85" x2="51.8" y2="167.25"/><line x1="51.8" y1="27.55" x2="51.8" y2="31.150000000000002"/><line x1="111.8" y1="170.85" x2="111.8" y2="167.25"/><line x1="111.8" y1="27.55" x2="111.8" y2="31.150000000000002"/><line x1="171.8" y1="170.85" x2="171.8" y2="167.25"/><line x1="171.8" y1="27.55" x2="171.8" y2="31.150000000000002"/><line x1="231.8" y1="170.85" x2="231.8" y2="167.25"/><line x1="231.8" y1="27.55" x2="231.8" y2="31.150000000000002"/><line x1="291.8" y1="170.85" x2="291.8" y2="167.25"/><line x1="291.8" y1="27.55" x2="291.8" y2="31.150000000000002"/><line x1="351.8" y1="170.85" x2="351.8" y2="167.25"/><line x1="351.8" y1="27.55" x2="351.8" y2="31.150000000000002"/><line x1="411.8" y1="170.85" x2="411.8" y2="167.25"/><line x1="411.8" y1="27.55" x2="411.8" y2="31.150000000000002"/></g>
<g clip-path="url(#c2)">
<polyline points="52.0,362.0 52.4,361.1 52.8,360.0 53.2,358.8 53.6,357.5 54.0,356.0 54.0,356.0 54.4,354.0 54.8,351.4 55.2,348.8 55.6,346.8 56.0,346.0 56.0,346.0 56.4,346.7 56.8,348.5 57.2,350.9 57.6,353.7 58.0,356.4 58.4,358.5 58.8,359.8 59.0,360.0 59.2,359.6 59.6,357.0 60.0,352.5 60.4,346.9 60.8,340.9 61.0,338.0 61.2,335.1 61.6,328.8 62.0,321.4 62.4,312.5 62.5,310.0 62.8,301.8 62.8,300.6 63.2,291.9 63.6,285.0 63.8,282.6 64.0,278.5 64.4,272.0 64.8,267.0 65.0,265.4 65.2,264.9 65.6,263.7 66.0,263.1 66.2,263.0 66.4,263.1 66.8,264.0 67.2,265.4 67.2,265.8 67.6,278.1 68.0,289.7 68.0,290.6 68.4,296.8 68.8,301.3 69.2,305.2 69.6,309.5 70.0,315.3 70.2,318.0 70.4,325.8 70.8,342.8 71.2,350.4 71.2,350.4 71.6,348.2 72.0,343.7 72.4,338.2 72.8,333.3 73.2,330.4 73.3,330.1 73.6,330.3 74.0,331.4 74.4,333.0 74.8,335.0 75.2,336.9 75.6,338.7 76.0,339.9 76.3,340.3 76.4,340.2 76.8,337.7 77.2,332.8 77.6,327.7 78.0,324.4 78.2,324.1 78.4,325.7 78.8,332.0 79.2,337.6 79.3,338.2 79.6,336.2 80.0,327.4 80.4,317.7 80.8,314.0 80.8,314.0 81.2,317.3 81.6,324.4 82.0,333.3 82.4,341.9 82.8,348.3 83.2,350.4 83.2,350.3 83.6,347.8 84.0,342.3 84.4,335.8 84.8,329.9 85.2,326.4 85.3,326.1 85.6,328.0 86.0,335.8 86.4,342.6 86.5,343.3 86.8,339.5 87.2,323.2 87.6,304.8 87.8,299.8 88.0,292.6 88.4,281.1 88.8,272.4 89.2,269.4 89.2,269.4 89.6,271.0 90.0,273.4 90.3,274.5 90.4,274.5 90.8,273.0 91.2,271.3 91.3,271.0 91.6,271.6 92.0,274.8 92.4,279.9 92.8,286.2 93.2,293.0 93.6,299.6 93.8,301.8 94.0,305.8 94.4,313.7 94.8,322.2 95.2,330.2 95.6,336.5 96.0,340.0 96.2,340.3 96.4,338.4 96.8,329.6 97.2,317.2 97.6,305.3 97.8,301.8 98.0,296.4 98.4,287.5 98.8,279.2 99.2,272.7 99.5,269.4 99.6,269.2 100.0,267.9 100.4,267.0 100.8,265.4 100.8,264.6 101.0,260.0 101.2,261.2 101.6,267.3 101.8,269.4 102.0,272.4 102.4,276.9 102.8,281.6 102.8,282.3 103.2,290.2 103.6,300.5 104.0,311.8 104.4,323.2 104.8,333.2 105.2,340.9 105.6,345.0 105.8,345.3 106.0,343.3 106.4,334.4 106.8,323.3 107.2,315.7 107.3,315.0 107.6,317.1 108.0,327.0 108.4,340.2 108.8,351.4 109.2,355.4 109.2,355.4 109.6,350.4 110.0,340.0 110.4,327.4 110.8,316.2 111.0,312.9 111.2,308.4 111.6,302.0 111.8,299.8 112.0,296.0 112.4,289.7 112.8,283.2 113.2,277.3 113.6,272.5 114.0,269.4 114.3,268.4 114.4,268.4 114.8,270.6 115.2,275.0 115.6,279.9 115.8,281.6 116.0,284.2 116.4,288.8 116.8,293.6 117.2,297.8 117.2,298.4 117.6,303.1 118.0,307.8 118.4,312.6 118.8,317.5 119.2,322.0 119.2,322.7 119.6,329.6 120.0,337.3 120.4,343.3 120.8,345.3 120.8,345.3 121.2,343.6 121.6,340.0 121.8,338.2 122.0,331.9 122.4,314.2 122.8,301.8 122.8,300.8 123.2,293.2 123.6,286.9 124.0,281.5 124.4,276.7 124.8,272.4 125.2,268.2 125.6,263.9 126.0,259.2 126.2,257.3 126.4,254.0 126.4,254.0 126.8,256.5 127.2,262.8 127.6,270.9 128.0,278.9 128.2,281.6 128.4,285.9 128.8,293.9 129.2,302.6 129.6,311.8 130.0,320.9 130.4,329.4 130.8,337.1 131.2,343.4 131.6,347.9 132.0,350.2 132.2,350.4 132.4,349.4 132.8,344.5 133.2,336.5 133.6,326.8 134.0,316.8 134.4,307.8 134.8,301.8 134.8,301.1 135.2,295.4 135.6,289.5 136.0,283.8 136.4,278.5 136.8,273.9 137.2,270.3 137.6,268.1 137.9,267.4 138.0,267.4 138.4,268.7 138.8,270.6 139.2,271.4 139.2,271.4 139.6,271.3 140.0,271.1 140.2,271.0 140.4,271.5 140.8,273.5 141.2,276.4 141.3,277.5 141.6,279.7 142.0,284.1 142.4,289.5 142.8,295.7 143.2,302.4 143.6,309.3 143.8,311.9 144.0,317.3 144.4,328.3 144.8,339.1 145.2,345.7 145.3,346.3 145.6,345.4 146.0,340.3 146.4,332.3 146.8,322.6 147.2,312.9 147.6,304.4 147.8,301.8 148.0,297.8 148.4,291.3 148.8,284.8 149.2,279.0 149.6,274.0 150.0,270.4 150.2,269.4 150.4,268.4 150.8,267.5 151.2,265.7 151.2,265.4 151.4,262.0 151.6,262.2 152.0,263.4 152.4,265.5 152.8,268.1 153.2,270.4 153.2,270.8 153.6,273.5 154.0,276.7 154.4,280.2 154.8,284.2 155.2,288.5 155.6,293.3 156.0,298.6 156.4,304.4 156.8,309.9 156.8,310.8 157.2,321.9 157.6,335.3 158.0,344.4 158.2,345.3 158.4,343.0 158.8,332.3 159.2,317.7 159.6,305.0 159.8,301.8 160.0,298.0 160.4,293.8 160.8,291.1 161.2,289.1 161.6,287.2 162.0,284.5 162.4,280.4 162.8,274.0 163.2,264.7 163.3,260.3 163.4,248.0 163.6,248.6 164.0,253.0 164.4,260.6 164.8,269.9 165.2,279.8 165.6,288.8 165.8,291.7 166.0,296.5 166.4,305.1 166.8,314.4 167.2,323.8 167.6,332.8 168.0,341.0 168.4,347.8 168.8,352.7 169.2,355.2 169.3,355.4 169.6,354.1 170.0,347.4 170.4,336.8 170.8,324.6 171.2,313.0 171.6,304.0 171.8,301.8 172.0,298.7 172.4,293.9 172.8,289.3 173.2,285.0 173.6,281.3 174.0,278.1 174.4,275.8 174.8,274.3 175.2,273.9 175.2,273.9 175.6,275.4 176.0,278.7 176.4,283.4 176.8,288.9 177.2,294.6 177.6,300.0 177.8,301.8 178.0,304.9 178.4,310.5 178.8,316.8 179.2,323.5 179.6,330.2 180.0,336.8 180.4,342.9 180.8,348.3 181.2,352.7 181.6,355.8 182.0,357.3 182.2,357.5 182.4,355.4 182.8,345.2 183.2,330.5 183.6,315.3 184.0,304.1 184.2,301.8 184.4,299.1 184.8,294.9 185.2,291.1 185.6,287.8 186.0,284.8 186.4,282.4 186.8,280.5 187.2,279.2 187.6,278.6 187.8,278.5 188.0,281.4 188.3,287.6 188.4,288.1 188.8,291.1 189.2,293.4 189.6,295.2 190.0,297.0 190.4,299.2 190.8,301.8 190.8,302.3 191.2,307.5 191.6,315.1 192.0,324.1 192.4,333.6 192.8,342.9 193.2,351.0 193.6,357.0 194.0,360.2 194.2,360.5 194.4,359.2 194.8,352.5 195.2,342.0 195.6,329.6 196.0,317.3 196.4,307.2 196.8,301.8 196.8,301.3 197.2,297.6 197.6,294.0 198.0,290.6 198.4,287.4 198.8,284.5 199.2,281.9 199.6,279.6 200.0,277.6 200.4,276.0 200.8,274.7 201.2,273.9 201.6,273.5 201.8,273.5 202.0,273.8 202.4,275.4 202.8,278.2 203.2,282.0 203.6,286.6 204.0,291.6 204.4,297.0 204.8,301.8 204.8,302.5 205.2,310.8 205.6,322.3 206.0,335.0 206.4,347.1 206.8,356.8 207.2,362.1 207.3,362.5 207.6,361.0 208.0,353.3 208.4,341.3 208.8,327.5 209.2,314.3 209.6,304.3 209.8,301.8 210.0,298.4 210.4,293.1 210.8,288.1 211.2,283.5 211.6,279.4 212.0,276.0 212.4,273.5 212.8,271.9 213.2,271.4 213.2,271.5 213.6,272.5 214.0,274.9 214.4,278.2 214.8,281.6 214.8,282.1 215.2,290.1 215.6,299.4 215.8,301.8 216.0,304.6 216.4,308.0 216.8,310.9 216.8,311.4 217.2,315.2 217.6,319.1 218.0,323.0 218.4,326.8 218.8,330.1 218.8,330.6 219.2,334.0 219.6,337.7 219.8,339.3 220.0,343.0 220.4,350.9 220.8,357.0 221.0,358.0 221.2,353.9 221.6,335.1 221.8,330.1 222.0,325.5 222.4,320.0 222.8,316.0 222.8,315.4 223.2,310.6 223.6,305.6 224.0,300.8 224.4,296.4 224.8,292.8 225.2,290.1 225.6,288.8 225.8,288.7 226.0,289.5 226.4,293.6 226.8,300.5 227.2,309.1 227.6,318.4 228.0,327.4 228.4,335.2 228.8,340.3 228.8,340.8 229.2,345.5 229.6,350.1 230.0,354.6 230.4,358.6 230.8,361.9 231.2,364.3 231.6,365.5 231.8,365.6 232.0,365.3 232.4,364.0 232.8,362.0 233.2,359.5 233.3,358.5 233.6,356.3 234.0,351.2 234.4,344.7 234.8,337.5 235.2,330.4 235.6,324.0 235.8,322.0 236.0,318.6 236.4,312.9 236.8,309.3 236.9,308.9 237.2,309.7 237.6,310.9 237.6,310.9 238.0,309.3 238.4,306.9 238.8,305.9 238.8,305.9 239.2,307.2 239.6,310.1 240.0,314.0 240.4,318.4 240.8,322.0 240.8,322.6 241.2,328.1 241.6,334.4 242.0,338.7 242.2,339.3 242.4,339.5 242.8,339.8 243.2,340.1 243.3,340.3 243.6,341.7 244.0,347.2 244.4,353.7 244.8,358.0 244.9,358.5 245.2,356.9 245.6,349.5 246.0,338.7 246.4,327.5 246.8,320.0 246.8,319.2 247.2,313.0 247.6,307.2 248.0,301.8 248.4,296.7 248.8,291.9 249.2,287.4 249.6,283.1 249.8,281.6 250.0,278.8 250.4,274.1 250.8,269.5 251.2,265.3 251.6,262.1 252.0,260.5 252.2,260.3 252.4,260.8 252.8,263.3 253.2,267.6 253.6,273.2 254.0,279.5 254.4,286.1 254.8,291.7 254.8,292.5 255.2,300.7 255.6,311.3 256.0,323.0 256.4,334.7 256.8,345.0 257.2,352.9 257.6,357.1 257.8,357.5 258.0,356.8 258.4,353.0 258.8,346.9 259.2,339.2 259.6,331.0 260.0,323.0 260.4,316.2 260.8,311.9 260.8,311.5 261.2,307.7 261.6,303.9 262.0,300.3 262.4,297.0 262.8,294.1 263.2,291.8 263.6,290.2 264.0,289.3 264.1,289.3 264.4,289.7 264.8,292.2 265.2,296.4 265.6,301.6 266.0,307.5 266.4,313.3 266.8,318.0 266.8,318.6 267.2,324.6 267.6,331.7 268.0,339.4 268.4,347.2 268.8,354.4 269.2,360.5 269.6,365.0 270.0,367.4 270.1,367.6 270.4,366.4 270.8,360.1 271.2,350.1 271.6,338.4 272.0,326.8 272.4,317.2 272.8,311.9 272.8,311.5 273.2,307.7 273.6,304.2 274.0,300.9 274.4,298.0 274.8,295.5 275.2,293.4 275.6,291.9 276.0,290.9 276.4,290.7 276.4,290.7 276.8,291.1 277.2,292.0 277.6,293.2 277.8,293.7 278.0,295.0 278.4,298.7 278.8,303.8 279.2,309.7 279.6,315.8 279.8,318.0 280.0,322.1 280.4,330.5 280.8,340.1 281.2,350.0 281.6,359.3 282.0,367.0 282.4,372.1 282.8,373.7 282.8,373.6 283.2,370.1 283.6,362.0 284.0,350.7 284.4,337.9 284.8,324.9 285.2,313.1 285.6,304.2 285.8,301.8 286.0,298.6 286.4,294.2 286.8,290.4 287.2,287.1 287.6,283.9 288.0,280.6 288.4,277.0 288.8,273.5 288.8,272.9 289.2,268.0 289.2,268.0 289.6,275.6 289.8,278.5 290.0,281.3 290.4,285.0 290.8,287.8 291.2,290.2 291.6,292.6 292.0,295.1 292.4,298.3 292.8,301.8 292.8,302.4 293.2,309.4 293.6,319.1 294.0,329.9 294.4,340.3 294.8,348.5 295.2,353.0 295.4,353.4 295.6,351.8 296.0,343.7 296.4,331.1 296.8,316.8 297.2,303.5 297.6,293.8 297.8,291.7 298.0,289.0 298.4,284.9 298.8,281.1 299.2,277.8 299.6,275.1 300.0,273.1 300.4,271.8 300.8,271.4 300.8,271.5 301.2,273.2 301.6,277.1 302.0,282.1 302.4,287.5 302.8,291.7 302.8,292.2 303.2,297.0 303.6,302.3 304.0,307.8 304.4,313.1 304.8,318.1 305.2,322.2 305.6,325.3 305.8,326.1 306.0,327.0 306.4,328.1 306.4,328.4 306.8,331.1 307.2,335.1 307.6,339.6 308.0,344.1 308.4,347.9 308.8,350.6 309.1,351.4 309.2,351.3 309.6,345.5 310.0,333.2 310.4,318.0 310.8,303.5 311.2,293.5 311.4,291.7 311.6,290.0 312.0,288.5 312.4,286.9 312.8,284.6 312.8,284.0 313.2,272.9 313.4,270.0 313.6,272.9 314.0,286.2 314.1,289.7 314.4,293.3 314.8,298.4 315.2,302.8 315.6,306.6 316.0,309.7 316.4,312.2 316.8,314.0 316.8,314.2 317.2,315.4 317.4,316.0 317.6,317.7 318.0,322.2 318.4,328.1 318.8,334.6 319.2,340.7 319.6,345.5 320.0,348.1 320.1,348.4 320.4,345.8 320.8,333.7 321.2,317.7 321.6,304.6 321.8,301.8 322.0,298.6 322.4,294.3 322.8,290.7 323.2,287.8 323.6,285.4 323.8,284.6 324.0,283.2 324.4,281.3 324.8,280.6 324.8,280.6 325.2,284.7 325.6,291.5 325.8,293.7 326.0,297.5 326.4,301.8 326.4,302.1 326.8,304.1 327.2,305.3 327.6,306.9 327.8,307.9 328.0,310.8 328.4,318.8 328.8,328.7 329.2,337.7 329.4,340.3 329.6,344.2 330.0,350.8 330.4,356.9 330.8,361.7 331.2,364.3 331.4,364.6 331.6,363.3 332.0,356.9 332.4,346.9 332.8,335.2 333.2,323.7 333.6,314.4 333.8,311.9 334.0,308.4 334.4,303.1 334.8,298.5 335.2,294.3 335.6,290.8 335.8,289.7 336.0,287.7 336.4,284.7 336.8,282.3 337.1,281.6 337.2,281.6 337.6,285.9 338.0,293.7 338.4,299.8 338.4,300.5 338.8,306.6 339.2,311.3 339.4,311.9 339.6,312.2 340.0,312.4 340.4,312.6 340.8,312.9 340.8,313.2 341.2,324.8 341.6,344.4 342.0,359.0 342.1,360.5 342.4,359.8 342.8,356.3 343.2,350.8 343.6,344.4 344.0,338.2 344.1,336.2 344.4,332.6 344.8,325.6 345.2,319.2 345.6,315.3 345.8,315.0 346.0,315.2 346.4,316.3 346.8,317.5 347.1,318.0 347.2,318.0 347.6,315.3 348.0,309.9 348.4,303.9 348.8,299.8 348.8,299.3 349.2,295.6 349.6,291.8 350.0,288.2 350.4,285.1 350.8,282.9 351.2,281.7 351.4,281.6 351.6,282.9 352.0,289.5 352.4,299.0 352.8,308.4 353.2,314.9 353.4,316.0 353.6,316.7 354.0,317.5 354.1,318.0 354.4,320.6 354.8,329.5 355.2,341.3 355.6,352.2 356.0,358.9 356.1,359.5 356.4,358.5 356.8,353.4 357.2,345.2 357.6,335.4 358.0,325.6 358.4,317.1 358.8,311.9 358.8,311.4 359.2,307.1 359.6,302.9 360.0,299.2 360.4,296.2 360.8,294.3 361.1,293.7 361.2,293.7 361.6,294.5 362.0,296.1 362.1,296.7 362.4,298.4 362.8,302.9 363.2,308.6 363.6,314.8 364.0,320.3 364.1,322.0 364.4,324.8 364.8,329.6 365.2,334.6 365.6,339.3 366.0,343.7 366.4,347.3 366.8,349.9 367.2,351.3 367.4,351.4 367.6,350.5 368.0,346.0 368.4,338.8 368.8,330.2 369.2,321.5 369.6,314.1 369.8,311.9 370.0,308.7 370.4,303.6 370.8,299.0 371.2,294.7 371.6,290.9 371.8,289.7 372.0,287.6 372.4,284.2 372.8,280.9 373.2,277.9 373.6,275.5 374.0,273.9 374.4,273.5 374.4,273.5 374.8,275.5 375.2,280.0 375.6,286.3 376.0,293.8 376.4,301.5 376.8,307.9 376.8,308.8 377.2,317.9 377.6,329.2 378.0,340.8 378.4,351.1 378.8,358.2 379.1,360.5 379.2,360.5 379.6,358.8 380.0,356.7 380.1,356.5 380.4,356.6 380.8,357.0 381.2,357.4 381.4,357.5 381.6,354.8 382.0,342.2 382.4,325.2 382.8,311.9 382.8,310.3 383.2,296.9 383.6,284.9 383.8,281.6 384.0,276.7 384.4,269.4 384.8,264.1 385.1,262.3 385.2,262.4 385.6,268.8 386.0,280.6 386.4,291.6 386.8,295.7 386.8,295.7 387.2,295.0 387.6,293.4 388.0,291.6 388.4,290.2 388.8,289.7 388.8,289.7 389.2,292.5 389.6,298.8 390.0,306.9 390.4,315.4 390.8,322.0 390.8,322.9 391.2,330.8 391.6,339.9 392.0,349.2 392.4,357.5 392.8,363.9 393.2,367.3 393.4,367.6 393.6,366.4 394.0,360.5 394.4,350.8 394.8,339.1 395.2,326.8 395.6,315.5 395.8,311.9 396.0,306.2 396.4,296.9 396.8,287.6 397.2,278.7 397.6,270.3 397.8,267.4 398.0,262.0 398.4,253.5 398.8,250.2 398.8,250.2 399.2,252.7 399.6,258.3 400.0,265.9 400.4,274.4 400.8,281.6 400.8,282.6 401.2,294.1 401.6,304.3 401.8,305.9 402.0,306.6 402.4,307.2 402.8,307.9 402.8,308.0 403.2,309.5 403.6,311.7 404.0,314.7 404.1,316.0 404.4,320.2 404.8,332.3 405.2,345.8 405.6,354.6 405.8,355.4 406.0,354.8 406.4,351.3 406.8,345.6 407.2,338.5 407.6,330.7 408.0,323.0 408.4,316.4 408.8,311.9 408.8,311.4 409.2,307.7 409.6,304.4 410.0,301.3 410.4,298.3 410.8,295.7 410.8,295.4 411.2,292.4 411.6,289.5 412.0,286.7 412.1,285.6" fill="none" stroke="#0072BD" stroke-width="1.05" stroke-linejoin="round" stroke-linecap="butt"/>
<polyline points="220.2,340.0 221.0,315.0 221.6,336.0" fill="none" stroke="#D95319" stroke-width="1.05" stroke-linejoin="round" stroke-linecap="butt"/>
<polyline points="266.6,332.0 269.0,381.0 270.6,352.0" fill="none" stroke="#D95319" stroke-width="1.05" stroke-linejoin="round" stroke-linecap="butt"/>
<polyline points="279.0,310.0 282.4,366.0" fill="none" stroke="#D95319" stroke-width="1.05" stroke-linejoin="round" stroke-linecap="butt"/>
<polyline points="188.0,280.0 188.6,290.0 189.2,280.0" fill="none" stroke="#D95319" stroke-width="1.05" stroke-linejoin="round" stroke-linecap="butt"/>
<polyline points="277.6,294.0 279.6,316.0" fill="none" stroke="#D95319" stroke-width="1.05" stroke-linejoin="round" stroke-linecap="butt"/>
<polyline points="68.6,360.0 69.0,378.0 69.4,360.0" fill="none" stroke="#EDB120" stroke-width="1.05" stroke-linejoin="round" stroke-linecap="butt"/>
<polyline points="69.8,320.0 70.6,287.0 71.4,350.0" fill="none" stroke="#EDB120" stroke-width="1.05" stroke-linejoin="round" stroke-linecap="butt"/>
<polyline points="71.6,340.0 72.4,291.0 73.0,384.0" fill="none" stroke="#EDB120" stroke-width="1.05" stroke-linejoin="round" stroke-linecap="butt"/>
<polyline points="126.2,262.0 127.4,256.0 128.6,282.0" fill="none" stroke="#EDB120" stroke-width="1.05" stroke-linejoin="round" stroke-linecap="butt"/>
<polyline points="145.0,340.0 145.6,350.0 146.2,340.0" fill="none" stroke="#EDB120" stroke-width="1.05" stroke-linejoin="round" stroke-linecap="butt"/>
<polyline points="152.4,266.0 153.6,273.0 154.6,282.0" fill="none" stroke="#EDB120" stroke-width="1.05" stroke-linejoin="round" stroke-linecap="butt"/>
<polyline points="162.8,262.0 163.4,249.0 164.4,262.0" fill="none" stroke="#EDB120" stroke-width="1.05" stroke-linejoin="round" stroke-linecap="butt"/>
<polyline points="326.8,300.0 327.6,273.0 328.2,306.0" fill="none" stroke="#EDB120" stroke-width="1.05" stroke-linejoin="round" stroke-linecap="butt"/>
<polyline points="337.2,284.0 338.4,278.0 340.0,318.0" fill="none" stroke="#EDB120" stroke-width="1.05" stroke-linejoin="round" stroke-linecap="butt"/>
<polyline points="343.0,358.0 344.0,354.0 345.0,326.0" fill="none" stroke="#EDB120" stroke-width="1.05" stroke-linejoin="round" stroke-linecap="butt"/>
<polyline points="78.0,326.0 79.0,325.0 79.6,336.0" fill="none" stroke="#EDB120" stroke-width="1.05" stroke-linejoin="round" stroke-linecap="butt"/>
<polyline points="110.2,340.0 111.0,316.0 111.6,306.0" fill="none" stroke="#EDB120" stroke-width="1.05" stroke-linejoin="round" stroke-linecap="butt"/>
<polyline points="52.0,362.0 52.4,364.8 52.8,365.9 53.0,366.0 53.2,365.5 53.6,362.2 54.0,356.7 54.4,350.0 54.8,343.1 55.0,340.0 55.2,336.6 55.6,328.0 56.0,319.5 56.4,313.8 56.6,313.0 56.8,316.4 57.2,334.4 57.6,346.0 57.6,346.0 58.0,341.2 58.4,330.2 58.8,317.9 59.2,309.3 59.4,308.0 59.6,308.9 60.0,314.5 60.4,322.6 60.8,329.8 61.2,333.0 61.2,333.0 61.6,330.3 62.0,323.7 62.4,314.9 62.8,305.9 63.0,302.0 63.2,298.2 63.6,290.2 64.0,283.0 64.0,283.0 64.4,277.6 64.8,272.9 65.2,267.6 65.3,266.0 65.6,259.2 66.0,247.8 66.4,240.4 66.5,240.0 66.8,244.8 67.2,259.2 67.4,266.0 67.6,271.3 68.0,282.1 68.2,290.0 68.4,308.7 68.8,364.3 69.0,376.0 69.2,372.8 69.6,353.2 70.0,329.5 70.4,318.0 70.4,318.0 70.8,326.4 71.2,342.8 71.4,350.0 71.6,356.7 72.0,371.5 72.4,382.3 72.6,384.0 72.8,379.5 73.2,354.2 73.6,330.0 73.6,330.0 74.0,315.3 74.4,302.2 74.8,294.2 75.0,293.0 75.2,295.0 75.6,307.9 76.0,325.1 76.4,338.0 76.6,340.0 76.8,339.5 77.2,335.9 77.6,330.7 78.0,326.0 78.4,324.0 78.4,324.0 78.8,327.6 79.2,334.4 79.6,338.0 79.6,338.0 80.0,333.2 80.4,323.4 80.8,315.3 81.0,314.0 81.2,314.7 81.6,319.6 82.0,327.5 82.4,336.5 82.8,344.4 83.2,349.3 83.4,350.0 83.6,349.4 84.0,345.6 84.4,339.6 84.8,333.2 85.2,328.1 85.6,326.0 85.6,326.0 86.0,330.4 86.4,338.6 86.8,343.0 86.8,343.0 87.2,334.3 87.6,315.9 88.0,300.0 88.0,300.0 88.4,288.5 88.8,277.8 89.2,271.0 89.4,270.0 89.6,270.4 90.0,272.5 90.4,274.6 90.6,275.0 90.8,274.6 91.2,272.8 91.6,271.6 91.6,271.6 92.0,273.1 92.4,277.0 92.8,282.6 93.2,289.1 93.6,295.8 94.0,302.0 94.0,302.0 94.4,308.7 94.8,316.9 95.2,325.2 95.6,332.7 96.0,338.0 96.4,340.0 96.4,340.0 96.8,335.6 97.2,325.1 97.6,312.5 98.0,302.0 98.0,302.0 98.4,293.4 98.8,284.7 99.2,277.0 99.6,271.5 99.8,270.0 100.0,269.0 100.4,267.2 100.8,266.1 101.0,266.0 101.2,266.2 101.6,267.7 102.0,270.0 102.0,270.0 102.4,273.7 102.8,279.1 103.0,282.0 103.2,285.3 103.6,294.2 104.0,304.8 104.4,316.2 104.8,327.0 105.2,336.2 105.6,342.6 106.0,345.0 106.0,345.0 106.4,340.3 106.8,330.0 107.2,319.7 107.6,315.0 107.6,315.0 108.0,320.0 108.4,331.7 108.8,344.6 109.2,353.6 109.4,355.0 109.6,353.9 110.0,346.6 110.4,335.1 110.8,322.8 111.2,313.0 111.2,313.0 111.6,306.0 112.0,300.0 112.0,300.0 112.4,294.0 112.8,287.6 113.2,281.4 113.6,275.9 114.0,271.7 114.4,269.3 114.6,269.0 114.8,269.5 115.2,272.6 115.6,277.3 116.0,282.0 116.0,282.0 116.4,287.3 116.8,293.2 117.2,297.4 117.4,298.0 117.6,296.3 118.0,287.6 118.4,282.0 118.4,282.0 118.8,291.4 119.2,311.6 119.4,322.0 119.6,335.1 120.0,365.2 120.2,371.0 120.4,367.4 120.8,350.4 121.0,345.0 121.2,343.1 121.6,341.0 122.0,338.0 122.0,338.0 122.4,325.6 122.8,308.0 123.0,302.0 123.2,297.9 123.6,289.9 124.0,282.4 124.4,275.7 124.8,269.8 125.2,264.9 125.6,261.2 126.0,258.8 126.4,258.0 126.4,258.0 126.8,259.6 127.2,263.8 127.6,269.6 128.0,276.0 128.4,282.0 128.4,282.0 128.8,288.4 129.2,296.1 129.6,304.8 130.0,313.9 130.4,322.9 130.8,331.4 131.2,338.8 131.6,344.7 132.0,348.6 132.4,350.0 132.4,350.0 132.8,347.7 133.2,341.5 133.6,332.8 134.0,323.0 134.4,313.3 134.8,305.1 135.0,302.0 135.2,299.2 135.6,293.5 136.0,287.7 136.4,282.1 136.8,277.1 137.2,273.0 137.6,269.9 138.0,268.2 138.2,268.0 138.4,268.3 138.8,270.0 139.2,271.7 139.4,272.0 139.6,272.0 140.0,271.7 140.4,271.6 140.4,271.6 140.8,272.6 141.2,275.0 141.6,278.0 141.6,278.0 142.0,281.6 142.4,286.4 142.8,292.0 143.2,298.4 143.6,305.1 144.0,312.0 144.0,312.0 144.4,321.2 144.8,332.4 145.2,342.0 145.6,346.0 145.6,346.0 146.0,343.6 146.4,337.3 146.8,328.6 147.2,318.9 147.6,309.5 148.0,302.0 148.0,302.0 148.4,295.6 148.8,289.2 149.2,283.0 149.6,277.4 150.0,273.0 150.4,270.0 150.4,270.0 150.8,267.9 151.2,266.4 151.5,266.0 151.6,266.0 152.0,266.5 152.4,267.4 152.8,268.7 153.2,270.2 153.4,271.0 153.6,271.9 154.0,274.2 154.4,277.2 154.8,280.9 155.2,285.1 155.6,289.8 156.0,295.1 156.4,300.8 156.8,306.8 157.0,310.0 157.2,314.3 157.6,326.9 158.0,339.4 158.4,345.0 158.4,345.0 158.8,339.5 159.2,326.9 159.6,312.5 160.0,302.0 160.0,302.0 160.4,295.3 160.8,288.7 161.2,282.4 161.6,276.6 162.0,271.4 162.4,267.1 162.8,263.8 163.2,261.7 163.6,261.0 163.6,261.0 164.0,262.5 164.4,266.4 164.8,272.1 165.2,278.7 165.6,285.6 166.0,292.0 166.0,292.0 166.4,298.8 166.8,307.1 167.2,316.2 167.6,325.5 168.0,334.5 168.4,342.6 168.8,349.1 169.2,353.4 169.6,355.0 169.6,355.0 170.0,351.8 170.4,343.4 170.8,332.2 171.2,320.1 171.6,309.3 172.0,302.0 172.0,302.0 172.4,297.1 172.8,292.4 173.2,288.0 173.6,283.9 174.0,280.4 174.4,277.6 174.8,275.6 175.2,274.5 175.4,274.4 175.6,274.7 176.0,276.9 176.4,280.8 176.8,285.8 177.2,291.4 177.6,297.0 178.0,302.0 178.0,302.0 178.4,307.0 178.8,312.9 179.2,319.3 179.6,325.9 180.0,332.5 180.4,338.9 180.8,344.7 181.2,349.7 181.6,353.6 182.0,356.1 182.4,357.0 182.4,357.0 182.8,352.0 183.2,339.8 183.6,324.5 184.0,310.5 184.4,302.0 184.4,302.0 184.8,297.7 185.2,293.8 185.6,290.2 186.0,287.0 186.4,284.2 186.8,282.0 187.2,280.4 187.6,279.4 188.0,279.0 188.0,279.0 188.4,285.7 188.6,288.0 188.8,286.8 189.2,280.2 189.6,276.0 189.6,276.0 190.0,279.7 190.4,288.3 190.8,297.9 191.0,302.0 191.2,305.7 191.6,314.1 192.0,323.0 192.4,332.1 192.8,340.7 193.2,348.3 193.6,354.5 194.0,358.5 194.4,360.0 194.4,360.0 194.8,356.8 195.2,348.5 195.6,337.2 196.0,324.8 196.4,313.2 196.8,304.6 197.0,302.0 197.2,300.1 197.6,296.4 198.0,293.0 198.4,289.7 198.8,286.7 199.2,283.9 199.6,281.4 200.0,279.3 200.4,277.4 200.8,276.0 201.2,274.9 201.6,274.2 202.0,274.0 202.0,274.0 202.4,274.7 202.8,276.8 203.2,280.0 203.6,284.1 204.0,288.8 204.4,293.9 204.8,299.3 205.0,302.0 205.2,305.3 205.6,314.9 206.0,326.9 206.4,339.5 206.8,350.7 207.2,358.9 207.6,362.0 207.6,362.0 208.0,358.3 208.4,348.8 208.8,336.0 209.2,322.3 209.6,310.2 210.0,302.0 210.0,302.0 210.4,297.2 210.8,293.2 211.2,289.9 211.6,287.0 212.0,284.3 212.4,281.4 212.8,278.1 213.2,274.2 213.4,272.0 213.6,268.6 214.0,263.0 214.0,263.0 214.4,267.8 214.8,277.5 215.0,282.0 215.2,286.2 215.6,295.0 216.0,302.0 216.0,302.0 216.4,306.1 216.8,309.3 217.0,311.0 217.2,312.9 217.6,316.7 218.0,320.5 218.4,324.3 218.8,328.1 219.0,330.0 219.2,332.1 219.6,336.7 220.0,339.0 220.0,339.0 220.4,338.5 220.8,337.2 221.2,335.2 221.6,332.8 222.0,330.0 222.0,330.0 222.4,325.1 222.8,318.7 223.0,316.0 223.2,313.7 223.6,308.8 224.0,303.9 224.4,299.3 224.8,295.2 225.2,292.0 225.6,289.8 226.0,289.0 226.0,289.0 226.4,291.0 226.8,296.2 227.2,303.7 227.6,312.6 228.0,321.8 228.4,330.4 228.8,337.4 229.0,340.0 229.2,342.3 229.6,346.9 230.0,351.5 230.4,355.7 230.8,359.4 231.2,362.4 231.6,364.3 232.0,365.0 232.0,365.0 232.4,364.4 232.8,362.8 233.2,360.6 233.6,358.0 233.6,358.0 234.0,354.2 234.4,348.5 234.8,341.7 235.2,334.6 235.6,327.7 236.0,322.0 236.0,322.0 236.4,316.4 236.8,311.3 237.2,309.0 237.2,309.0 237.6,310.5 237.8,311.0 238.0,310.6 238.4,308.5 238.8,306.4 239.0,306.0 239.2,306.3 239.6,308.2 240.0,311.6 240.4,315.7 240.8,320.0 241.0,322.0 241.2,324.3 241.6,330.4 242.0,336.1 242.4,339.0 242.4,339.0 242.8,339.4 243.2,339.6 243.6,340.0 243.6,340.0 244.0,343.1 244.4,349.3 244.8,355.3 245.2,358.0 245.2,358.0 245.6,354.3 246.0,345.3 246.4,334.2 246.8,323.9 247.0,320.0 247.2,316.8 247.6,310.8 248.0,305.2 248.4,300.0 248.8,295.2 249.2,290.6 249.6,286.2 250.0,282.0 250.0,282.0 250.4,277.6 250.8,272.9 251.2,268.4 251.6,264.6 252.0,262.0 252.4,261.0 252.4,261.0 252.8,262.2 253.2,265.4 253.6,270.2 254.0,276.0 254.4,282.4 254.8,288.9 255.0,292.0 255.2,295.5 255.6,304.6 256.0,315.6 256.4,327.3 256.8,338.5 257.2,348.0 257.6,354.5 258.0,357.0 258.0,357.0 258.4,355.2 258.8,350.6 259.2,343.8 259.6,335.9 260.0,327.8 260.4,320.2 260.8,314.2 261.0,312.0 261.2,310.1 261.6,306.4 262.0,302.7 262.4,299.3 262.8,296.1 263.2,293.5 263.6,291.4 264.0,290.1 264.4,289.6 264.4,289.6 264.8,290.8 265.2,293.9 265.6,298.5 266.0,304.0 266.4,309.8 266.8,315.4 267.0,318.0 267.2,320.7 267.6,327.1 268.0,334.4 268.4,342.1 268.8,349.6 269.2,356.4 269.6,361.9 270.0,365.6 270.4,367.0 270.4,367.0 270.8,364.0 271.2,356.2 271.6,345.5 272.0,333.7 272.4,322.8 272.8,314.5 273.0,312.0 273.2,310.1 273.6,306.5 274.0,303.1 274.4,300.0 274.8,297.3 275.2,294.9 275.6,293.1 276.0,291.8 276.4,291.1 276.6,291.0 276.8,291.1 277.2,291.7 277.6,292.7 278.0,294.0 278.0,294.0 278.4,296.5 278.8,300.7 279.2,306.1 279.6,312.1 280.0,318.0 280.0,318.0 280.4,325.0 280.8,333.8 281.2,343.5 281.6,353.2 282.0,361.9 282.4,368.7 282.8,372.5 283.0,373.0 283.2,372.3 283.6,366.9 284.0,357.6 284.4,345.7 284.8,332.8 285.2,320.2 285.6,309.5 286.0,302.0 286.0,302.0 286.4,296.6 286.8,291.3 287.2,286.4 287.6,281.9 288.0,278.3 288.4,275.6 288.8,274.2 289.0,274.0 289.2,274.3 289.6,276.4 290.0,279.0 290.0,279.0 290.4,281.4 290.8,283.8 291.2,286.4 291.6,289.2 292.0,292.4 292.4,295.9 292.8,299.8 293.0,302.0 293.2,304.8 293.6,312.8 294.0,323.0 294.4,333.8 294.8,343.4 295.2,350.3 295.6,353.0 295.6,353.0 296.0,349.1 296.4,339.1 296.8,325.7 297.2,311.7 297.6,299.5 298.0,292.0 298.0,292.0 298.4,287.8 298.8,283.8 299.2,280.3 299.6,277.2 300.0,274.8 300.4,273.0 300.8,272.1 301.0,272.0 301.2,272.4 301.6,275.0 302.0,279.4 302.4,284.6 302.8,289.7 303.0,292.0 303.2,294.2 303.6,299.2 304.0,304.5 304.4,309.9 304.8,315.1 305.2,319.7 305.6,323.5 306.0,326.0 306.0,326.0 306.4,327.3 306.6,328.0 306.8,329.1 307.2,332.3 307.6,336.5 308.0,341.0 308.4,345.3 308.8,348.7 309.2,350.7 309.4,351.0 309.6,349.8 310.0,341.2 310.4,327.5 310.8,312.3 311.2,299.3 311.6,292.0 311.6,292.0 312.0,289.0 312.4,286.6 312.8,285.2 313.0,285.0 313.2,285.2 313.6,286.2 314.0,288.0 314.4,290.0 314.4,290.0 314.8,292.7 315.2,296.5 315.6,301.0 316.0,305.6 316.4,309.7 316.8,312.9 317.0,314.0 317.2,314.7 317.6,316.0 317.6,316.0 318.0,319.1 318.4,324.2 318.8,330.4 319.2,336.8 319.6,342.4 320.0,346.5 320.4,348.0 320.4,348.0 320.8,341.8 321.2,327.7 321.6,312.2 322.0,302.0 322.0,302.0 322.4,297.1 322.8,293.2 323.2,289.9 323.6,287.3 324.0,285.0 324.0,285.0 324.4,282.8 324.8,281.2 325.0,281.0 325.2,281.9 325.6,287.5 326.0,294.0 326.0,294.0 326.4,300.5 326.6,302.0 326.8,299.3 327.2,285.2 327.6,276.0 327.6,276.0 328.0,308.0 328.0,308.0 328.4,320.0 328.8,328.2 329.2,334.3 329.6,340.0 329.6,340.0 330.0,346.4 330.4,352.8 330.8,358.5 331.2,362.5 331.6,364.0 331.6,364.0 332.0,361.0 332.4,353.1 332.8,342.3 333.2,330.6 333.6,319.9 334.0,312.0 334.0,312.0 334.4,306.5 334.8,301.5 335.2,297.1 335.6,293.3 336.0,290.0 336.0,290.0 336.4,286.9 336.8,284.1 337.2,282.3 337.4,282.0 337.6,283.0 338.0,289.0 338.4,296.8 338.6,300.0 338.8,302.2 339.2,305.7 339.6,312.0 339.6,312.0 340.0,345.0 340.0,345.0 340.4,333.7 340.8,316.3 341.0,313.0 341.2,315.6 341.6,331.5 342.0,350.7 342.4,360.0 342.4,360.0 342.8,358.3 343.2,354.0 343.6,348.1 344.0,341.7 344.4,336.0 344.4,336.0 344.8,329.9 345.2,323.0 345.6,317.3 346.0,315.0 346.0,315.0 346.4,315.6 346.8,316.8 347.2,317.8 347.4,318.0 347.6,317.4 348.0,313.5 348.4,307.7 348.8,302.1 349.0,300.0 349.2,298.2 349.6,294.5 350.0,290.8 350.4,287.4 350.8,284.6 351.2,282.7 351.6,282.0 351.6,282.0 352.0,285.3 352.4,293.2 352.8,302.9 353.2,311.5 353.6,316.0 353.6,316.0 354.0,317.0 354.4,318.0 354.4,318.0 354.8,323.3 355.2,333.6 355.6,345.3 356.0,355.0 356.4,359.0 356.4,359.0 356.8,356.6 357.2,350.2 357.6,341.4 358.0,331.5 358.4,322.1 358.8,314.6 359.0,312.0 359.2,309.9 359.6,305.6 360.0,301.6 360.4,298.2 360.8,295.6 361.2,294.2 361.4,294.0 361.6,294.2 362.0,295.3 362.4,297.0 362.4,297.0 362.8,300.1 363.2,305.1 363.6,311.0 364.0,317.0 364.4,322.0 364.4,322.0 364.8,326.5 365.2,331.3 365.6,336.2 366.0,340.8 366.4,344.8 366.8,348.1 367.2,350.2 367.6,351.0 367.6,351.0 368.0,348.8 368.4,343.2 368.8,335.4 369.2,326.7 369.6,318.5 370.0,312.0 370.0,312.0 370.4,306.9 370.8,302.0 371.2,297.5 371.6,293.5 372.0,290.0 372.0,290.0 372.4,286.7 372.8,283.3 373.2,280.1 373.6,277.4 374.0,275.3 374.4,274.2 374.6,274.0 374.8,274.4 375.2,277.4 375.6,282.6 376.0,289.4 376.4,296.9 376.8,304.5 377.0,308.0 377.2,311.9 377.6,321.9 378.0,333.4 378.4,344.6 378.8,353.8 379.2,359.2 379.4,360.0 379.6,359.6 380.0,357.4 380.4,356.0 380.4,356.0 380.8,356.3 381.2,356.7 381.6,357.0 381.6,357.0 382.0,350.6 382.4,335.8 382.8,319.0 383.0,312.0 383.2,305.5 383.6,292.3 384.0,282.0 384.0,282.0 384.4,274.3 384.8,267.7 385.2,263.6 385.4,263.0 385.6,263.7 386.0,268.8 386.4,277.8 386.8,289.5 387.0,296.0 387.2,307.4 387.6,343.9 388.0,365.0 388.0,365.0 388.4,338.6 388.8,297.8 389.0,290.0 389.2,290.6 389.6,294.8 390.0,301.9 390.4,310.2 390.8,318.4 391.0,322.0 391.2,325.6 391.6,334.0 392.0,343.1 392.4,352.0 392.8,359.7 393.2,365.0 393.6,367.0 393.6,367.0 394.0,364.2 394.4,356.7 394.8,346.2 395.2,334.2 395.6,322.3 396.0,312.0 396.0,312.0 396.4,302.9 396.8,293.7 397.2,284.6 397.6,276.0 398.0,268.0 398.0,268.0 398.4,259.3 398.8,252.2 399.0,251.0 399.2,251.5 399.6,255.3 400.0,261.7 400.4,269.6 400.8,278.0 401.0,282.0 401.2,286.8 401.6,298.9 402.0,306.0 402.0,306.0 402.4,307.0 402.8,307.5 403.0,308.0 403.2,308.6 403.6,310.4 404.0,312.8 404.4,316.0 404.4,316.0 404.8,324.1 405.2,337.3 405.6,349.6 406.0,355.0 406.0,355.0 406.4,353.4 406.8,349.0 407.2,342.8 407.6,335.4 408.0,327.6 408.4,320.3 408.8,314.3 409.0,312.0 409.2,310.1 409.6,306.5 410.0,303.4 410.4,300.4 410.8,297.5 411.0,296.0 411.2,294.5 411.6,291.6 412.0,288.8 412.4,286.0" fill="none" stroke="#7E2F8E" stroke-width="1.05" stroke-linejoin="round" stroke-linecap="butt"/>
</g>
<g stroke="#262626" stroke-width="1" fill="none"><rect x="52.0" y="242.05" width="361.3" height="142.25" stroke-width="1.1"/><line x1="52.0" y1="244.7" x2="55.6" y2="244.7"/><line x1="413.3" y1="244.7" x2="409.7" y2="244.7"/><line x1="52.0" y1="288.9" x2="55.6" y2="288.9"/><line x1="413.3" y1="288.9" x2="409.7" y2="288.9"/><line x1="52.0" y1="333.1" x2="55.6" y2="333.1"/><line x1="413.3" y1="333.1" x2="409.7" y2="333.1"/><line x1="52.0" y1="377" x2="55.6" y2="377"/><line x1="413.3" y1="377" x2="409.7" y2="377"/><line x1="51.8" y1="384.3" x2="51.8" y2="380.7"/><line x1="51.8" y1="242.05" x2="51.8" y2="245.65"/><line x1="111.8" y1="384.3" x2="111.8" y2="380.7"/><line x1="111.8" y1="242.05" x2="111.8" y2="245.65"/><line x1="171.8" y1="384.3" x2="171.8" y2="380.7"/><line x1="171.8" y1="242.05" x2="171.8" y2="245.65"/><line x1="231.8" y1="384.3" x2="231.8" y2="380.7"/><line x1="231.8" y1="242.05" x2="231.8" y2="245.65"/><line x1="291.8" y1="384.3" x2="291.8" y2="380.7"/><line x1="291.8" y1="242.05" x2="291.8" y2="245.65"/><line x1="351.8" y1="384.3" x2="351.8" y2="380.7"/><line x1="351.8" y1="242.05" x2="351.8" y2="245.65"/><line x1="411.8" y1="384.3" x2="411.8" y2="380.7"/><line x1="411.8" y1="242.05" x2="411.8" y2="245.65"/></g>
<rect x="433.7" y="241.9" width="105.8" height="64.1" fill="#fff" stroke="#262626" stroke-width="1"/>
<line x1="438.2" y1="251.5" x2="479.7" y2="251.5" stroke="#0072BD" stroke-width="0.9"/>
<line x1="438.2" y1="266.5" x2="479.7" y2="266.5" stroke="#D95319" stroke-width="0.9"/>
<line x1="438.2" y1="281.5" x2="479.7" y2="281.5" stroke="#EDB120" stroke-width="0.9"/>
<line x1="438.2" y1="296.5" x2="479.7" y2="296.5" stroke="#7E2F8E" stroke-width="0.9"/>
<text x="232.5" y="21.6" font-size="13.8" text-anchor="middle" font-weight="bold" fill="#000" font-family="Liberation Sans, Arial, sans-serif" >(a) HRV and PRV waveforms before post-processing</text>
<text x="232.4" y="235.6" font-size="13.8" text-anchor="middle" font-weight="bold" fill="#000" font-family="Liberation Sans, Arial, sans-serif" >(b) HRV and PRV waveforms after post-processing</text>
<text x="51.8" y="188.5" font-size="12" text-anchor="middle"  font-family="Liberation Sans, Arial, sans-serif" fill="#262626" >0</text>
<text x="51.8" y="402" font-size="12" text-anchor="middle"  font-family="Liberation Sans, Arial, sans-serif" fill="#262626" >0</text>
<text x="111.8" y="188.5" font-size="12" text-anchor="middle"  font-family="Liberation Sans, Arial, sans-serif" fill="#262626" >50</text>
<text x="111.8" y="402" font-size="12" text-anchor="middle"  font-family="Liberation Sans, Arial, sans-serif" fill="#262626" >50</text>
<text x="171.8" y="188.5" font-size="12" text-anchor="middle"  font-family="Liberation Sans, Arial, sans-serif" fill="#262626" >100</text>
<text x="171.8" y="402" font-size="12" text-anchor="middle"  font-family="Liberation Sans, Arial, sans-serif" fill="#262626" >100</text>
<text x="231.8" y="188.5" font-size="12" text-anchor="middle"  font-family="Liberation Sans, Arial, sans-serif" fill="#262626" >150</text>
<text x="231.8" y="402" font-size="12" text-anchor="middle"  font-family="Liberation Sans, Arial, sans-serif" fill="#262626" >150</text>
<text x="291.8" y="188.5" font-size="12" text-anchor="middle"  font-family="Liberation Sans, Arial, sans-serif" fill="#262626" >200</text>
<text x="291.8" y="402" font-size="12" text-anchor="middle"  font-family="Liberation Sans, Arial, sans-serif" fill="#262626" >200</text>
<text x="351.8" y="188.5" font-size="12" text-anchor="middle"  font-family="Liberation Sans, Arial, sans-serif" fill="#262626" >250</text>
<text x="351.8" y="402" font-size="12" text-anchor="middle"  font-family="Liberation Sans, Arial, sans-serif" fill="#262626" >250</text>
<text x="411.8" y="188.5" font-size="12" text-anchor="middle"  font-family="Liberation Sans, Arial, sans-serif" fill="#262626" >300</text>
<text x="411.8" y="402" font-size="12" text-anchor="middle"  font-family="Liberation Sans, Arial, sans-serif" fill="#262626" >300</text>
<text x="232.8" y="206.7" font-size="13.7" text-anchor="middle"  font-family="Liberation Sans, Arial, sans-serif" fill="#262626" >Time (s)</text>
<text x="232.8" y="420.2" font-size="13.7" text-anchor="middle"  font-family="Liberation Sans, Arial, sans-serif" fill="#262626" >Time (s)</text>
<text x="47.8" y="37.3" font-size="12" text-anchor="end"  font-family="Liberation Sans, Arial, sans-serif" fill="#262626" >1.2</text>
<text x="47.8" y="65.6" font-size="12" text-anchor="end"  font-family="Liberation Sans, Arial, sans-serif" fill="#262626" >1</text>
<text x="47.8" y="93.8" font-size="12" text-anchor="end"  font-family="Liberation Sans, Arial, sans-serif" fill="#262626" >0.8</text>
<text x="47.8" y="122.0" font-size="12" text-anchor="end"  font-family="Liberation Sans, Arial, sans-serif" fill="#262626" >0.6</text>
<text x="47.8" y="150.3" font-size="12" text-anchor="end"  font-family="Liberation Sans, Arial, sans-serif" fill="#262626" >0.4</text>
<text x="47.8" y="250.0" font-size="12" text-anchor="end"  font-family="Liberation Sans, Arial, sans-serif" fill="#262626" >1.2</text>
<text x="47.8" y="294.2" font-size="12" text-anchor="end"  font-family="Liberation Sans, Arial, sans-serif" fill="#262626" >1</text>
<text x="47.8" y="338.40000000000003" font-size="12" text-anchor="end"  font-family="Liberation Sans, Arial, sans-serif" fill="#262626" >0.8</text>
<text x="47.8" y="382.3" font-size="12" text-anchor="end"  font-family="Liberation Sans, Arial, sans-serif" fill="#262626" >0.6</text>
<text transform="translate(24.3,99) rotate(-90)" font-size="13.7" text-anchor="middle" font-family="Liberation Sans, Arial, sans-serif" fill="#262626">Time (s)</text>
<text transform="translate(24.1,313.4) rotate(-90)" font-size="13.7" text-anchor="middle" font-family="Liberation Sans, Arial, sans-serif" fill="#262626">Time (s)</text>
<text x="483.7" y="255.3" font-size="11" text-anchor="start"  font-family="Liberation Sans, Arial, sans-serif" fill="#262626" >HRV</text>
<text x="483.7" y="270.3" font-size="11" text-anchor="start"  font-family="Liberation Sans, Arial, sans-serif" fill="#262626" textLength="41.9" lengthAdjust="spacing">PRVpda</text>
<text x="483.7" y="285.3" font-size="11" text-anchor="start"  font-family="Liberation Sans, Arial, sans-serif" fill="#262626" textLength="51.6" lengthAdjust="spacing">PRVampd</text>
<text x="483.7" y="300.3" font-size="11" text-anchor="start"  font-family="Liberation Sans, Arial, sans-serif" fill="#262626" textLength="37.6" lengthAdjust="spacing">PRVssf</text>
</svg>
</body></html>
